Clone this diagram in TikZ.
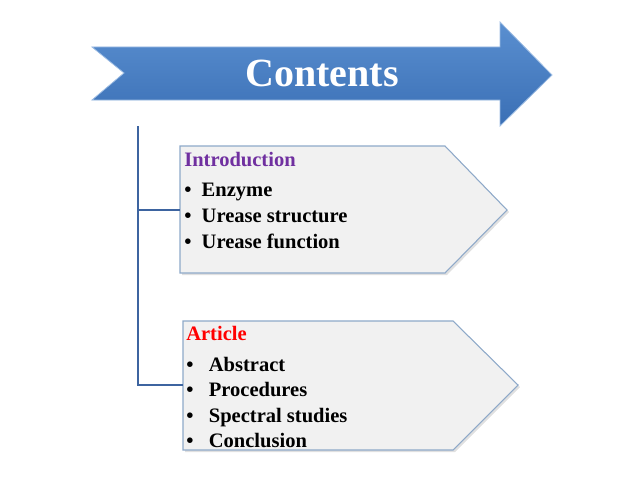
\documentclass[tikz,border=0pt]{standalone}
\usepackage{fontspec}
\setmainfont{Liberation Serif}
\definecolor{arrblue}{HTML}{3A6FB5}
\definecolor{arrlight}{HTML}{5A8FD0}
\definecolor{boxfill}{HTML}{F1F1F1}
\definecolor{boxline}{HTML}{8EA9C9}
\definecolor{treeline}{HTML}{3D64A0}
\definecolor{intro}{HTML}{7030A0}
\begin{document}
\begin{tikzpicture}[x=0.75pt,y=-0.75pt,
  pent/.style={fill=boxfill,draw=boxline,line width=0.8pt},
  txt/.style={anchor=base west,inner sep=0pt,font=\fontsize{15.4}{17}\selectfont\bfseries},
  tree/.style={draw=treeline,line width=1.3pt}]
\useasboundingbox (0,0) rectangle (638,478);
\shade[top color=arrlight,bottom color=arrblue,draw=arrlight!60!white,line width=0.6pt]
  (92,47) -- (500,47) -- (500,22) -- (552,75) -- (500,126) -- (500,100) -- (92,100) -- (124,73) -- cycle;
\node[font=\fontsize{30}{32}\selectfont\bfseries,text=white] (title) at (322,73) {Contents};
\fill[black!12] (182,148) -- (447,148) -- (509,212) -- (447,275) -- (182,275) -- cycle;
\draw[pent] (180,146) -- (445,146) -- (507,210) -- (445,273) -- (180,273) -- cycle;
\fill[black!12] (185,323) -- (455,323) -- (520,387) -- (455,452) -- (185,452) -- cycle;
\draw[pent] (183,321) -- (453,321) -- (518,385) -- (453,450) -- (183,450) -- cycle;
\coordinate (b1) at (180,210);
\coordinate (b2) at (183,385);
\coordinate (top) at (138,126);
\draw[tree] (top) -- (138,385) -- (b2);
\draw[tree] (138,210) -- (b1);
\node[txt,text=intro] (i0) at (184,166) {Introduction};
\node[txt] (i1) at (184,196) {\textbullet\ \ Enzyme};
\node[txt] (i2) at (184,222) {\textbullet\ \ Urease structure};
\node[txt] (i3) at (184,248) {\textbullet\ \ Urease function};
\node[txt,text=red] (a0) at (186,340) {Article};
\node[txt] (a1) at (186,371) {\textbullet\ \ \ Abstract};
\node[txt] (a2) at (186,396) {\textbullet\ \ \ Procedures};
\node[txt] (a3) at (186,422) {\textbullet\ \ \ Spectral studies};
\node[txt] (a4) at (186,447) {\textbullet\ \ \ Conclusion};
\end{tikzpicture}
\end{document}
